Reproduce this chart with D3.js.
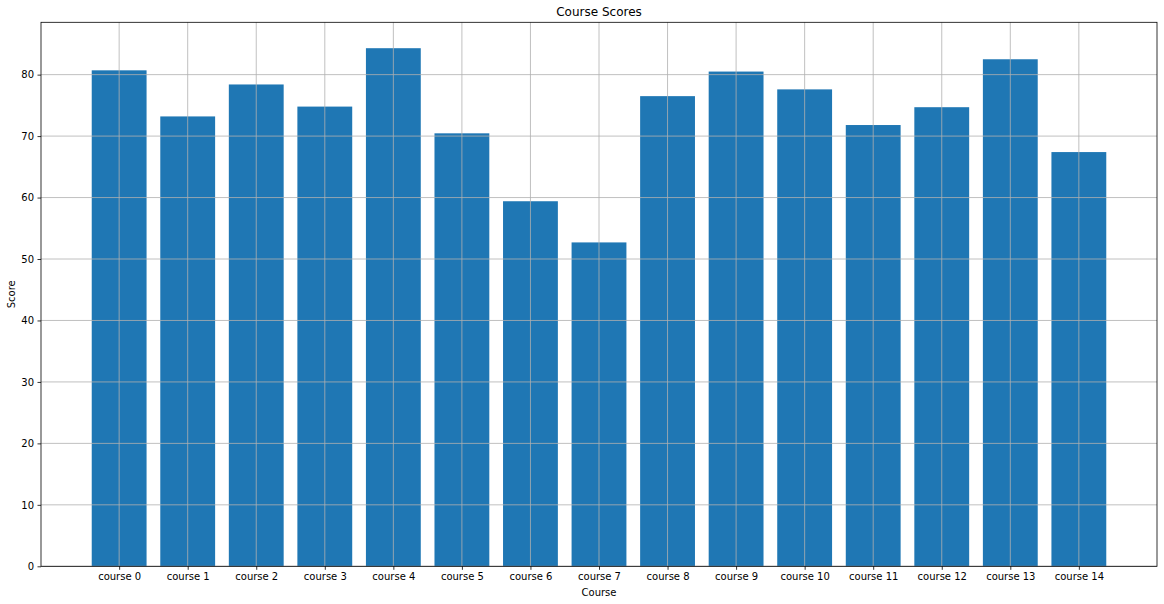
<!DOCTYPE html>
<html>
<head>
<meta charset="utf-8">
<script src="https://cdn.jsdelivr.net/npm/d3@7"></script>
<style>
  body { margin: 0; background: #fff; }
  svg text { font-family: "DejaVu Sans", sans-serif; fill: #000; }
</style>
</head>
<body>
<svg id="chart" width="1164" height="604"></svg>
<script>
// Course names and their scores
const courses = ["course 0", "course 1", "course 2", "course 3", "course 4",
  "course 5", "course 6", "course 7", "course 8", "course 9",
  "course 10", "course 11", "course 12", "course 13", "course 14"];
const scores = [80.7, 73.2, 78.4, 74.8, 84.3, 70.45, 59.4, 52.7, 76.5, 80.5,
  77.6, 71.8, 74.7, 82.5, 67.4];
const yTicks = [0, 10, 20, 30, 40, 50, 60, 70, 80];

const svg = d3.select("#chart");
const margin = { top: 22.3, right: 7, bottom: 37.7, left: 41 };
const width = 1164, height = 604;
const plotW = width - margin.left - margin.right;
const plotH = height - margin.top - margin.bottom;

const data = courses.map((c, i) => ({ name: c, idx: i, value: scores[i] }));

// matplotlib-like continuous x: bars at integer positions, width 0.8, 5% margins
const lo = -0.4, hi = courses.length - 1 + 0.4;
const pad = (hi - lo) * 0.05;
const x = d3.scaleLinear()
  .domain([lo - pad, hi + pad])
  .range([margin.left, margin.left + plotW]);

const y = d3.scaleLinear()
  .domain([0, d3.max(scores) * 1.05])
  .range([margin.top + plotH, margin.top]);

const g = svg.append("g");

// bars
g.selectAll(".bar")
  .data(data)
  .enter()
  .append("rect")
  .attr("class", "bar")
  .attr("x", (d) => x(d.idx - 0.4))
  .attr("y", (d) => y(d.value))
  .attr("width", x(0.4) - x(-0.4))
  .attr("height", (d) => y(0) - y(d.value))
  .attr("fill", "#1f77b4");

// grid on top of bars
g.append("g")
  .selectAll("line.hgrid")
  .data(yTicks)
  .enter()
  .append("line")
  .attr("x1", margin.left)
  .attr("x2", margin.left + plotW)
  .attr("y1", (d) => y(d))
  .attr("y2", (d) => y(d))
  .attr("stroke", "#b0b0b0")
  .attr("stroke-width", 0.8);

g.append("g")
  .selectAll("line.vgrid")
  .data(data)
  .enter()
  .append("line")
  .attr("x1", (d) => x(d.idx))
  .attr("x2", (d) => x(d.idx))
  .attr("y1", margin.top)
  .attr("y2", margin.top + plotH)
  .attr("stroke", "#b0b0b0")
  .attr("stroke-width", 0.8);

// axes
const xAxis = d3.axisBottom(x)
  .tickValues(data.map((d) => d.idx))
  .tickFormat((i) => courses[i])
  .tickSize(3.5)
  .tickSizeOuter(0)
  .tickPadding(3.5);

const yAxis = d3.axisLeft(y)
  .tickValues(yTicks)
  .tickSize(3.5)
  .tickSizeOuter(0)
  .tickPadding(3.5);

const xg = svg.append("g")
  .attr("transform", `translate(0, ${margin.top + plotH})`)
  .call(xAxis);
const yg = svg.append("g")
  .attr("transform", `translate(${margin.left}, 0)`)
  .call(yAxis);

[xg, yg].forEach((a) => {
  a.select(".domain").remove();
  a.selectAll("line").attr("stroke", "#000").attr("stroke-width", 0.8);
  a.selectAll("text").attr("font-size", "10px").style("font-family", "DejaVu Sans, sans-serif");
});

// frame
svg.append("rect")
  .attr("x", margin.left)
  .attr("y", margin.top)
  .attr("width", plotW)
  .attr("height", plotH)
  .attr("fill", "none")
  .attr("stroke", "#000")
  .attr("stroke-width", 0.8);

// title and axis labels
svg.append("text")
  .attr("x", margin.left + plotW / 2)
  .attr("y", margin.top - 6)
  .attr("text-anchor", "middle")
  .attr("font-size", "12px")
  .text("Course Scores");

svg.append("text")
  .attr("x", margin.left + plotW / 2)
  .attr("y", 596)
  .attr("text-anchor", "middle")
  .attr("font-size", "10px")
  .text("Course");

svg.append("text")
  .attr("transform", `translate(15, ${margin.top + plotH / 2}) rotate(-90)`)
  .attr("text-anchor", "middle")
  .attr("font-size", "10px")
  .text("Score");
</script>
</body>
</html>
